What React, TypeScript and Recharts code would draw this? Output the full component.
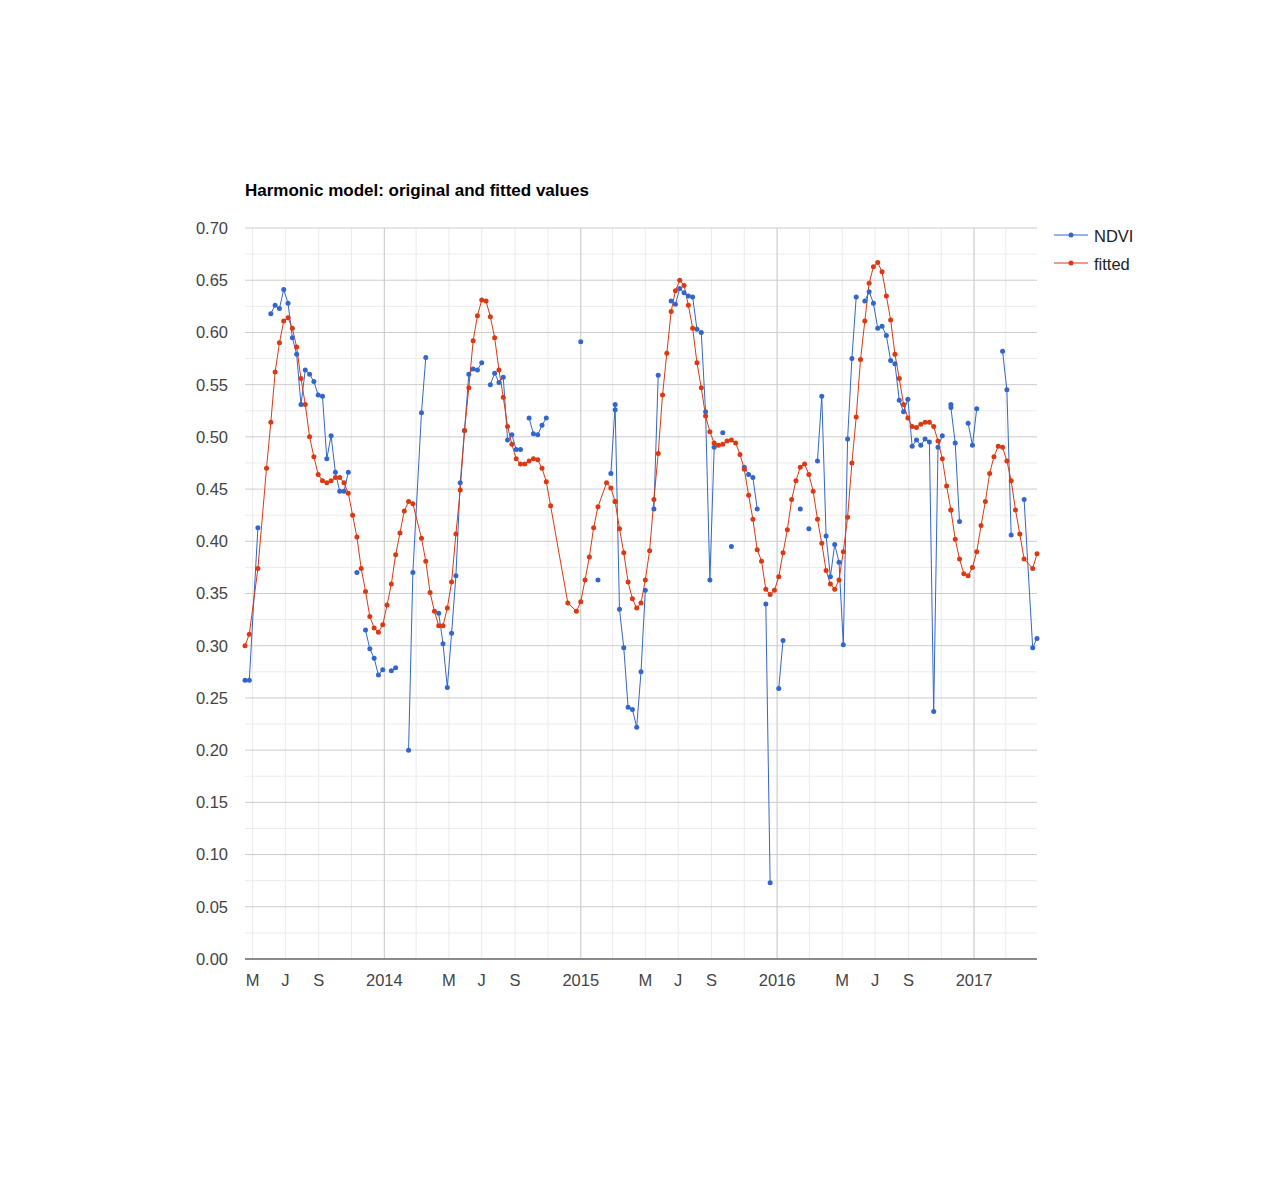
import React from "react";
import { CartesianGrid, Line, LineChart, XAxis, YAxis } from "recharts";

// image dates, as days after the first scene (2013-04-17)
const START = "2013-04-17";
const DAYS = [
  0, 8, 24, 40, 48, 56, 64, 72, 80, 88,
  96, 104, 112, 120, 128, 136, 144, 152, 160, 168,
  176, 184, 192, 200, 208, 216, 224, 232, 240, 248,
  256, 264, 272, 280, 288, 296, 304, 312, 328, 336,
  344, 352, 360, 368, 376, 384, 392, 400, 408, 416,
  424, 432, 440, 448, 456, 464, 472, 480, 488, 496,
  504, 512, 520, 528, 536, 544, 552, 560, 568, 600,
  616, 624, 632, 640, 648, 656, 672, 680, 688, 688,
  696, 704, 712, 720, 728, 736, 744, 752, 760, 768,
  776, 784, 792, 800, 808, 816, 824, 832, 840, 848,
  856, 864, 872, 880, 888, 896, 904, 912, 920, 928,
  936, 944, 952, 960, 968, 976, 984, 992, 1000, 1008,
  1016, 1024, 1032, 1040, 1048, 1056, 1064, 1072, 1080, 1088,
  1096, 1104, 1112, 1120, 1128, 1136, 1144, 1152, 1160, 1168,
  1176, 1184, 1192, 1200, 1208, 1216, 1224, 1232, 1240, 1248,
  1256, 1264, 1272, 1280, 1288, 1296, 1304, 1312, 1312, 1320,
  1328, 1336, 1344, 1352, 1360, 1368, 1376, 1384, 1392, 1400,
  1408, 1416, 1424, 1432, 1440, 1448, 1464, 1472,
];

const NDVI = [
  0.267, 0.267, 0.413, null, 0.618, 0.626, 0.623, 0.641, 0.628, 0.595,
  0.579, 0.531, 0.564, 0.56, 0.553, 0.54, 0.539, 0.479, 0.501, 0.466,
  0.448, 0.448, 0.466, null, 0.37, null, 0.315, 0.297, 0.288, 0.272,
  0.277, null, 0.276, 0.279, null, null, 0.2, 0.37, 0.523, 0.576,
  null, null, 0.331, 0.302, 0.26, 0.312, 0.367, 0.456, 0.506, 0.56,
  0.565, 0.564, 0.571, null, 0.55, 0.561, 0.552, 0.557, 0.497, 0.502,
  0.488, 0.488, null, 0.518, 0.503, 0.502, 0.511, 0.518, null, null,
  null, 0.591, null, null, null, 0.363, null, 0.465, 0.531, 0.526,
  0.335, 0.298, 0.241, 0.239, 0.222, 0.275, 0.353, null, 0.431, 0.559,
  null, null, 0.63, 0.627, 0.642, 0.638, 0.635, 0.634, 0.603, 0.6,
  0.524, 0.363, 0.49, null, 0.504, null, 0.395, null, null, 0.471,
  0.464, 0.461, 0.431, null, 0.34, 0.073, null, 0.259, 0.305, null,
  null, null, 0.431, null, 0.412, null, 0.477, 0.539, 0.405, 0.366,
  0.397, 0.38, 0.301, 0.498, 0.575, 0.634, null, 0.63, 0.639, 0.628,
  0.604, 0.606, 0.597, 0.573, 0.57, 0.535, 0.524, 0.536, 0.491, 0.497,
  0.492, 0.498, 0.495, 0.237, 0.49, 0.501, null, 0.531, 0.528, 0.494,
  0.419, null, 0.513, 0.492, 0.527, null, null, null, null, null,
  0.582, 0.545, 0.406, null, null, 0.44, 0.298, 0.307,
];

const FITTED = [
  0.3, 0.311, 0.374, 0.47, 0.514, 0.562, 0.59, 0.611, 0.614, 0.604,
  0.586, 0.556, 0.531, 0.5, 0.481, 0.464, 0.458, 0.456, 0.458, 0.461,
  0.461, 0.456, 0.446, 0.425, 0.404, 0.374, 0.352, 0.328, 0.317, 0.313,
  0.32, 0.339, 0.359, 0.387, 0.408, 0.429, 0.438, 0.436, 0.403, 0.381,
  0.351, 0.333, 0.319, 0.319, 0.336, 0.361, 0.407, 0.449, 0.506, 0.547,
  0.592, 0.616, 0.631, 0.63, 0.615, 0.595, 0.564, 0.538, 0.51, 0.493,
  0.479, 0.474, 0.474, 0.477, 0.479, 0.478, 0.47, 0.457, 0.434, 0.341,
  0.333, 0.342, 0.363, 0.385, 0.413, 0.433, 0.456, 0.451, 0.438, 0.438,
  0.412, 0.389, 0.361, 0.345, 0.336, 0.341, 0.363, 0.391, 0.44, 0.484,
  0.54, 0.58, 0.62, 0.64, 0.65, 0.645, 0.626, 0.604, 0.571, 0.547,
  0.52, 0.505, 0.494, 0.492, 0.493, 0.496, 0.497, 0.494, 0.483, 0.469,
  0.444, 0.421, 0.392, 0.381, 0.354, 0.349, 0.353, 0.366, 0.389, 0.411,
  0.44, 0.458, 0.471, 0.474, 0.464, 0.448, 0.421, 0.398, 0.372, 0.359,
  0.354, 0.363, 0.39, 0.423, 0.475, 0.519, 0.574, 0.611, 0.647, 0.663,
  0.667, 0.658, 0.635, 0.612, 0.579, 0.556, 0.531, 0.518, 0.51, 0.509,
  0.512, 0.514, 0.514, 0.51, 0.496, 0.479, 0.453, 0.43, 0.43, 0.402,
  0.383, 0.369, 0.367, 0.375, 0.39, 0.415, 0.438, 0.465, 0.481, 0.491,
  0.49, 0.477, 0.458, 0.43, 0.407, 0.383, 0.374, 0.388,
];

const TICK_DATES = [
  "2013-05-01", "2013-07-01", "2013-09-01", "2013-11-01",
  "2014-01-01", "2014-03-01", "2014-05-01", "2014-07-01", "2014-09-01", "2014-11-01",
  "2015-01-01", "2015-03-01", "2015-05-01", "2015-07-01", "2015-09-01", "2015-11-01",
  "2016-01-01", "2016-03-01", "2016-05-01", "2016-07-01", "2016-09-01", "2016-11-01",
  "2017-01-01", "2017-03-01",
];
const TICK_LABELS = [
  "M", "J", "S", "",
  "2014", "", "M", "J", "S", "",
  "2015", "", "M", "J", "S", "",
  "2016", "", "M", "J", "S", "",
  "2017", "",
];
const YEAR_DATES = ["2014-01-01", "2015-01-01", "2016-01-01", "2017-01-01"];

const Y_TICKS = [0, 0.05, 0.1, 0.15, 0.2, 0.25, 0.3, 0.35, 0.4, 0.45, 0.5, 0.55, 0.6, 0.65, 0.7];
const Y_MINOR = [0.025, 0.075, 0.125, 0.175, 0.225, 0.275, 0.325, 0.375, 0.425, 0.475, 0.525, 0.575, 0.625, 0.675];

const BLUE = "#3366cc";
const RED = "#dc3912";
const FONT = "'Liberation Sans', Arial, sans-serif";

const toDay = (iso: string) =>
  Math.round((Date.parse(iso + "T00:00:00Z") - Date.parse(START + "T00:00:00Z")) / 86400000);

const tickDays = TICK_DATES.map(toDay);
const yearDays = YEAR_DATES.map(toDay);
const labelFor = new Map(tickDays.map((d, i) => [d, TICK_LABELS[i]]));

const rows = DAYS.map((t, i) => ({ t, ndvi: NDVI[i], fitted: FITTED[i] }));

function LegendItem({ color, label, top }: { color: string; label: string; top: number }) {
  return (
    <div style={{ position: "absolute", left: 1053, top, height: 20, display: "flex", alignItems: "center" }}>
      <svg width={36} height={20}>
        <line x1={1} y1={10} x2={35} y2={10} stroke={color} strokeWidth={1} />
        <circle cx={18} cy={10} r={2.5} fill={color} />
      </svg>
      <span style={{ marginLeft: 5, fontSize: 16.5, color: "#222", fontFamily: FONT, position: "relative", top: 1 }}>
        {label}
      </span>
    </div>
  );
}

export default function App() {
  return (
    <div style={{ position: "absolute", left: 0, top: 0, width: 1281, height: 1186, background: "#fff" }}>
      <div
        style={{
          position: "absolute",
          left: 245,
          top: 181,
          fontFamily: FONT,
          fontWeight: "bold",
          fontSize: 17,
          color: "#000",
          whiteSpace: "nowrap",
        }}
      >
        Harmonic model: original and fitted values
      </div>
      <LineChart
        width={1281}
        height={1186}
        data={rows}
        margin={{ top: 228, right: 244, bottom: 197, left: 185 }}
        style={{ fontFamily: FONT }}
      >
        <CartesianGrid stroke="#ebebeb" horizontalValues={Y_MINOR} verticalValues={tickDays} />
        <CartesianGrid stroke="#cccccc" horizontalValues={Y_TICKS} verticalValues={yearDays} />
        <XAxis
          type="number"
          dataKey="t"
          domain={[0, 1472]}
          ticks={tickDays}
          interval={0}
          tickFormatter={(v) => labelFor.get(v) ?? ""}
          tickLine={false}
          tickSize={0}
          tickMargin={15}
          axisLine={{ stroke: "#333" }}
          height={30}
          tick={{ fill: "#444", fontSize: 16.5 }}
        />
        <YAxis
          type="number"
          domain={[0, 0.7]}
          ticks={Y_TICKS}
          interval={0}
          tickFormatter={(v) => Number(v).toFixed(2)}
          tickLine={false}
          axisLine={false}
          tickSize={0}
          tickMargin={17}
          width={60}
          tick={{ fill: "#444", fontSize: 16.5 }}
        />
        <Line
          type="linear"
          dataKey="ndvi"
          stroke={BLUE}
          strokeWidth={1}
          dot={{ r: 2.5, fill: BLUE, stroke: BLUE, strokeWidth: 0 }}
          isAnimationActive={false}
        />
        <Line
          type="linear"
          dataKey="fitted"
          stroke={RED}
          strokeWidth={1}
          dot={{ r: 2.5, fill: RED, stroke: RED, strokeWidth: 0 }}
          isAnimationActive={false}
        />
      </LineChart>
      <LegendItem color={BLUE} label="NDVI" top={225} />
      <LegendItem color={RED} label="fitted" top={253} />
    </div>
  );
}
